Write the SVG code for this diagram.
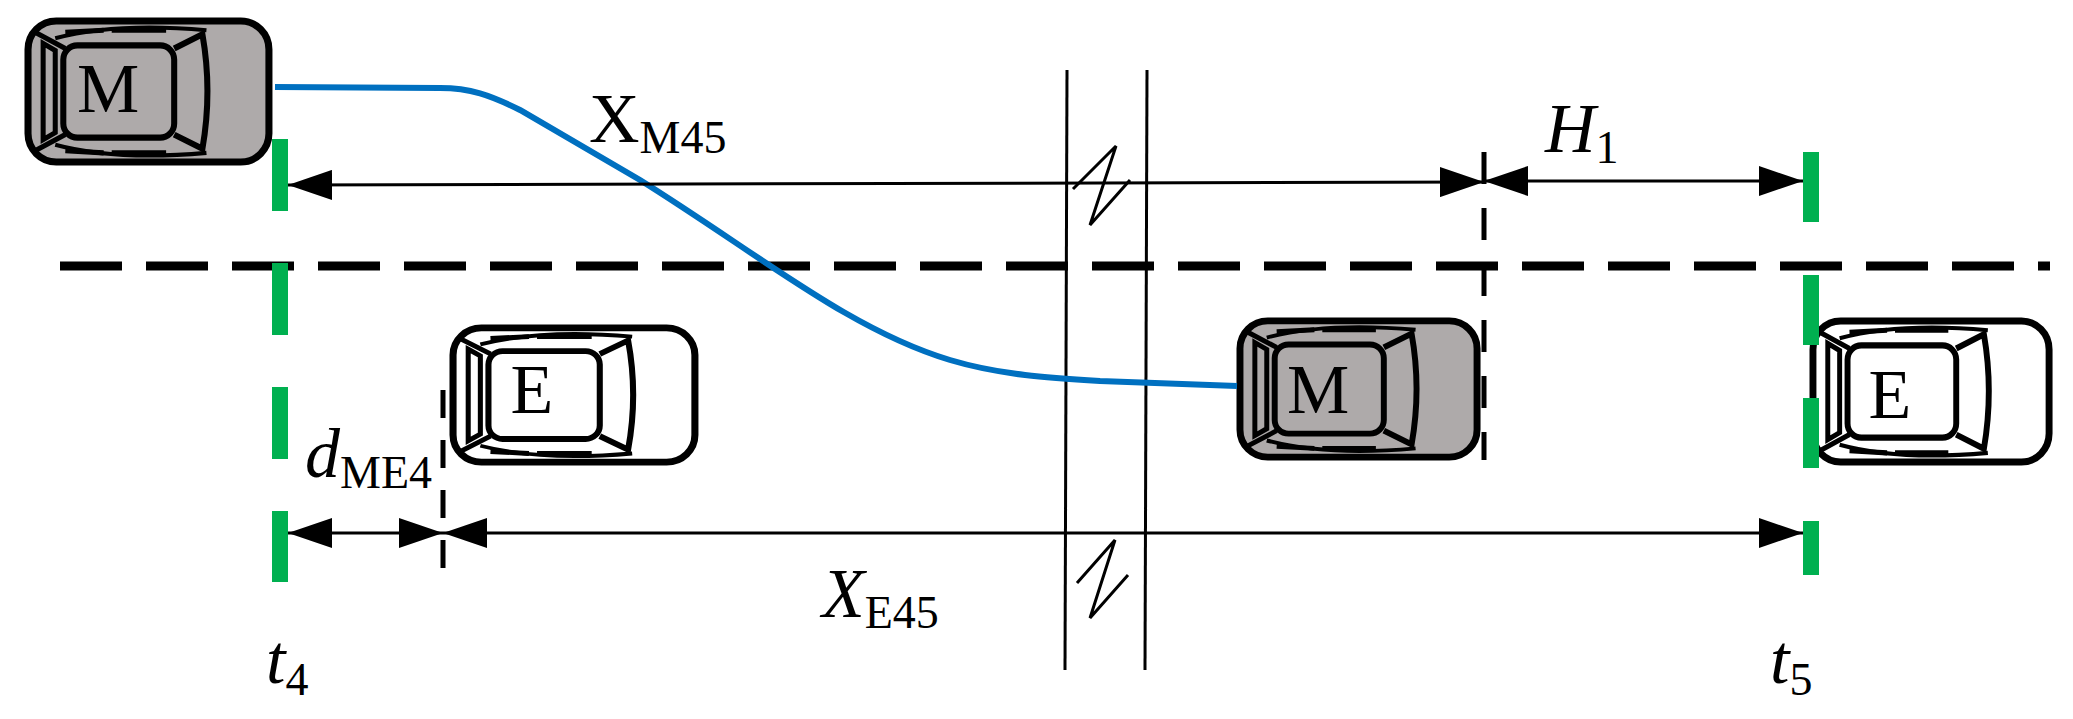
<svg xmlns="http://www.w3.org/2000/svg" xmlns:xlink="http://www.w3.org/1999/xlink" width="2073" height="719" viewBox="0 0 2073 719">
<style>
.t{font-family:"Liberation Serif",serif;fill:#000}
.big{font-size:70px}
.sub{font-size:46px}
.it{font-style:italic}
.dim{stroke:#000;stroke-width:3;fill:none}
.green{stroke:#00b050;stroke-width:16;fill:none}
.blk{stroke:#000;fill:none}
</style>
<defs>
<marker id="ah" viewBox="0 0 44 30" refX="44" refY="15" markerWidth="44" markerHeight="30" markerUnits="userSpaceOnUse" orient="auto-start-reverse">
<path d="M0,0 L44,15 L0,30 Z" fill="#000"/>
</marker>
<g id="car">
<rect x="3" y="3" width="239" height="139" rx="28" stroke="#000" stroke-width="7"/>
<path d="M18,25 L30,32 L30,113 L18,120 Z" fill="none" stroke="#000" stroke-width="5"/>
<path d="M10,14 L40,30 M10,131 L40,115" stroke="#000" stroke-width="5"/>
<rect x="38" y="27" width="110" height="91" rx="14" fill="none" stroke="#000" stroke-width="6"/>
<path d="M148,30 L176,16 Q186,72 176,129 L148,115" fill="none" stroke="#000" stroke-width="6"/>
<path d="M40,14 L78,12 M86,12 L140,12 M40,131 L78,133 M86,133 L140,133" stroke="#000" stroke-width="5"/>
<path d="M30,20 Q90,4 180,12 M30,125 Q90,141 180,133" fill="none" stroke="#000" stroke-width="4"/>
</g>
</defs>

<g id="lane-divider">
<line x1="60" y1="266" x2="2050" y2="266" stroke="#000" stroke-width="9" stroke-dasharray="62 24"/>
</g>

<g id="break-lines">
<line x1="1067" y1="70" x2="1065" y2="670" class="blk" stroke-width="3"/>
<line x1="1147" y1="70" x2="1145" y2="670" class="blk" stroke-width="3"/>
<path d="M1073,189 L1116,146 L1090,225 L1130,180" class="blk" stroke-width="3"/>
<path d="M1077,583 L1115,540 L1090,618 L1128,575" class="blk" stroke-width="3"/>
</g>

<g id="t4-line"><line x1="280" y1="139" x2="280" y2="582" class="green" stroke-dasharray="72 52"/></g>

<g id="car-M1"><use xlink:href="#car" transform="translate(25,18) scale(1.008,1.014)" fill="#aeaaaa"/><text class="t big" x="108" y="112" text-anchor="middle">M</text></g>
<g id="car-E1"><use xlink:href="#car" transform="translate(450,325) scale(1.012,0.966)" fill="#fff"/><text class="t big" x="532" y="413" text-anchor="middle">E</text></g>
<g id="car-M2"><use xlink:href="#car" transform="translate(1237,318) scale(0.992,0.98)" fill="#aeaaaa"/><text class="t big" x="1318" y="413" text-anchor="middle">M</text></g>
<g id="car-E2"><use xlink:href="#car" transform="translate(1810,318) scale(0.988,1.014)" fill="#fff"/><text class="t big" x="1890" y="418" text-anchor="middle">E</text></g>

<g id="t5-line"><line x1="1811" y1="152" x2="1811" y2="575" class="green" stroke-dasharray="70 53"/></g>

<g id="connectors">
<path d="M275,87 L440,88 C470,88 490,95 520,110 L640,180 C760,255 850,330 950,360 C1000,375 1050,378 1100,381 L1237,386" fill="none" stroke="#0070c0" stroke-width="6"/>
<line x1="1484" y1="152" x2="1484" y2="460" stroke="#000" stroke-width="5" stroke-dasharray="32 24"/>
<line x1="443" y1="390" x2="443" y2="575" stroke="#000" stroke-width="5" stroke-dasharray="28 22"/>
<line x1="288" y1="185" x2="1484" y2="182" class="dim" marker-start="url(#ah)" marker-end="url(#ah)"/>
<line x1="1484" y1="181" x2="1803" y2="181" class="dim" marker-start="url(#ah)" marker-end="url(#ah)"/>
<line x1="288" y1="533" x2="443" y2="533" class="dim" marker-start="url(#ah)" marker-end="url(#ah)"/>
<line x1="443" y1="533" x2="1803" y2="533" class="dim" marker-start="url(#ah)" marker-end="url(#ah)"/>
</g>

<g id="labels">
<text class="t big" x="589" y="142">X<tspan class="sub" dy="11">M45</tspan></text>
<text class="t big it" x="1545" y="152">H<tspan class="sub" dy="11" font-style="normal">1</tspan></text>
<text class="t big it" x="305" y="477">d<tspan class="sub" dy="11" font-style="normal">ME4</tspan></text>
<text class="t big it" x="822" y="617">X<tspan class="sub" dy="11" font-style="normal">E45</tspan></text>
<text class="t big it" x="266" y="683">t<tspan class="sub" dy="12" font-style="normal">4</tspan></text>
<text class="t big it" x="1770" y="683">t<tspan class="sub" dy="12" font-style="normal">5</tspan></text>
</g>
</svg>
